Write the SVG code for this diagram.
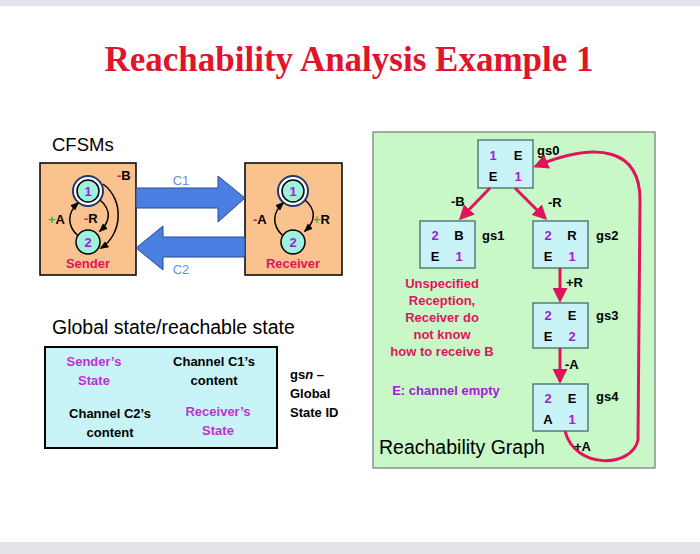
<svg xmlns="http://www.w3.org/2000/svg" width="700" height="554" viewBox="0 0 700 554">
<defs>
<style>
text{font-family:"Liberation Sans",Arial,sans-serif}
.b{font-weight:bold;font-size:13px}
.st{fill:#9ff0dc;stroke:#000;stroke-width:1.5}
.gn{fill:#c8f4f8;stroke:#3a6060;stroke-width:1.2}
.gt{font-weight:bold;font-size:13px;text-anchor:middle}
.pu{fill:#a020d0}
.e{fill:none;stroke:#e0145a;stroke-width:3}
.bl{fill:none;stroke:#000;stroke-width:1.5}
</style>
<marker id="ar" viewBox="0 0 10 10" refX="8" refY="5" markerWidth="5" markerHeight="5" orient="auto"><path d="M0,0L10,5L0,10z" fill="#e0145a"/></marker>
<marker id="ak" viewBox="0 0 10 10" refX="8" refY="5" markerWidth="6" markerHeight="6" orient="auto"><path d="M0,1L10,5L0,9z" fill="#000"/></marker>
</defs>
<rect width="700" height="554" fill="#fff"/>
<rect width="700" height="6" fill="#e4e4e8"/>
<rect y="542" width="700" height="12" fill="#e4e4e8"/>
<text x="349" y="71" text-anchor="middle" style="font-family:'Liberation Serif',serif;font-weight:bold;font-size:35px;fill:#e0142a">Reachability Analysis Example 1</text>
<text x="52" y="151" font-size="18.5">CFSMs</text>
<g id="sender">
<rect x="40" y="163" width="96" height="112" fill="#fac28e" stroke="#000" stroke-width="1.5"/>
<circle cx="88" cy="191" r="15" fill="#fff" stroke="#1a3a70" stroke-width="2"/>
<circle cx="88" cy="191" r="11" class="st"/>
<text x="88" y="196" class="gt pu">1</text>
<circle cx="88" cy="242" r="12" class="st"/>
<text x="88" y="247" class="gt pu">2</text>
<path class="bl" d="M78,236 C66,225 68,212 78,203" marker-end="url(#ak)"/>
<path class="bl" d="M100,200 C112,210 110,222 100,231" marker-end="url(#ak)"/>
<path class="bl" d="M103,184 C125,200 122,235 101,248" marker-end="url(#ak)"/>
<text x="48" y="224" class="b"><tspan fill="#3cb43c">+</tspan>A</text>
<text x="84" y="223" class="b"><tspan fill="#e0145a">-</tspan>R</text>
<text x="117" y="180" class="b"><tspan fill="#e0145a">-</tspan>B</text>
<text x="88" y="268" class="gt" fill="#e0145a">Sender</text>
</g>
<g id="receiver">
<rect x="245" y="163" width="97" height="112" fill="#fac28e" stroke="#000" stroke-width="1.5"/>
<circle cx="293" cy="191" r="15" fill="#fff" stroke="#1a3a70" stroke-width="2"/>
<circle cx="293" cy="191" r="11" class="st"/>
<text x="293" y="196" class="gt pu">1</text>
<circle cx="293" cy="242" r="12" class="st"/>
<text x="293" y="247" class="gt pu">2</text>
<path class="bl" d="M283,236 C271,225 273,212 283,203" marker-end="url(#ak)"/>
<path class="bl" d="M305,200 C317,210 315,222 305,231" marker-end="url(#ak)"/>
<text x="253" y="224" class="b"><tspan fill="#e0145a">-</tspan>A</text>
<text x="313" y="224" class="b"><tspan fill="#3cb43c">+</tspan>R</text>
<text x="293" y="268" class="gt" fill="#e0145a">Receiver</text>
</g>
<g id="channels">
<path d="M136,188 H218 V176 L245,198 L218,222 V208 H136z" fill="#4a7ee0" stroke="#2a4a90"/>
<path d="M245,237 H163 V226 L136,248 L163,270 V257 H245z" fill="#4a7ee0" stroke="#2a4a90"/>
<text x="181" y="185" font-size="13" text-anchor="middle" fill="#6a90d8">C1</text>
<text x="181" y="274" font-size="13" text-anchor="middle" fill="#6a90d8">C2</text>
</g>
<text x="52" y="334" font-size="19.5">Global state/reachable state</text>
<g id="legend">
<rect x="45" y="347" width="232" height="101" fill="#c8f4f8" stroke="#000" stroke-width="2"/>
<text x="94" y="366" class="gt" fill="#c030d0">Sender’s</text>
<text x="94" y="385" class="gt" fill="#c030d0">State</text>
<text x="214" y="366" class="gt">Channel C1’s</text>
<text x="214" y="385" class="gt">content</text>
<text x="110" y="418" class="gt">Channel C2’s</text>
<text x="110" y="437" class="gt">content</text>
<text x="218" y="416" class="gt" fill="#c030d0">Receiver’s</text>
<text x="218" y="435" class="gt" fill="#c030d0">State</text>
<text x="290" y="379" class="b">gs<tspan font-style="italic">n</tspan> –</text>
<text x="290" y="398" class="b">Global</text>
<text x="290" y="417" class="b">State ID</text>
</g>
<rect x="373" y="132" width="282" height="336" fill="#c8f8c8" stroke="#777" stroke-width="1.2"/>
<g id="gs0"><rect x="478" y="140" width="55" height="48" class="gn"/>
<text x="493" y="160" class="gt pu">1</text><text x="518" y="160" class="gt">E</text>
<text x="493" y="181" class="gt">E</text><text x="518" y="181" class="gt pu">1</text>
<text x="537" y="155" class="b">gs0</text></g>
<g id="gs1"><rect x="420" y="221" width="55" height="47" class="gn"/>
<text x="435" y="240" class="gt pu">2</text><text x="459" y="240" class="gt">B</text>
<text x="435" y="261" class="gt">E</text><text x="459" y="261" class="gt pu">1</text>
<text x="482" y="240" class="b">gs1</text></g>
<g id="gs2"><rect x="533" y="221" width="55" height="47" class="gn"/>
<text x="548" y="240" class="gt pu">2</text><text x="572" y="240" class="gt">R</text>
<text x="548" y="261" class="gt">E</text><text x="572" y="261" class="gt pu">1</text>
<text x="596" y="240" class="b">gs2</text></g>
<g id="gs3"><rect x="533" y="303" width="55" height="45" class="gn"/>
<text x="548" y="320" class="gt pu">2</text><text x="572" y="320" class="gt">E</text>
<text x="548" y="341" class="gt">E</text><text x="572" y="341" class="gt pu">2</text>
<text x="596" y="320" class="b">gs3</text></g>
<g id="gs4"><rect x="533" y="384" width="55" height="47" class="gn"/>
<text x="548" y="403" class="gt pu">2</text><text x="572" y="403" class="gt">E</text>
<text x="548" y="424" class="gt">A</text><text x="572" y="424" class="gt pu">1</text>
<text x="596" y="401" class="b">gs4</text></g>
<g id="edges">
<path class="e" d="M490,188 L461,218" marker-end="url(#ar)"/>
<path class="e" d="M515,188 L545,218" marker-end="url(#ar)"/>
<path class="e" d="M560,268 V300" marker-end="url(#ar)"/>
<path class="e" d="M560,348 V381" marker-end="url(#ar)"/>
<path class="e" d="M565,431 C575,470 632,468 638,440 L640,200 C640,150 600,140 536,166" marker-end="url(#ar)"/>
<text x="451" y="206" class="b">-B</text>
<text x="548" y="207" class="b">-R</text>
<text x="566" y="287" class="b">+R</text>
<text x="565" y="369" class="b">-A</text>
<text x="574" y="451" class="b">+A</text>
</g>
<g id="notes">
<text x="442" y="288" class="gt" fill="#e0145a">Unspecified</text>
<text x="442" y="305" class="gt" fill="#e0145a">Reception,</text>
<text x="442" y="322" class="gt" fill="#e0145a">Receiver do</text>
<text x="442" y="339" class="gt" fill="#e0145a">not know</text>
<text x="442" y="356" class="gt" fill="#e0145a">how to receive B</text>
<text x="446" y="395" class="gt" fill="#a020d0">E: channel empty</text>
<text x="379" y="454" font-size="19.5">Reachability Graph</text>
</g>
</svg>
